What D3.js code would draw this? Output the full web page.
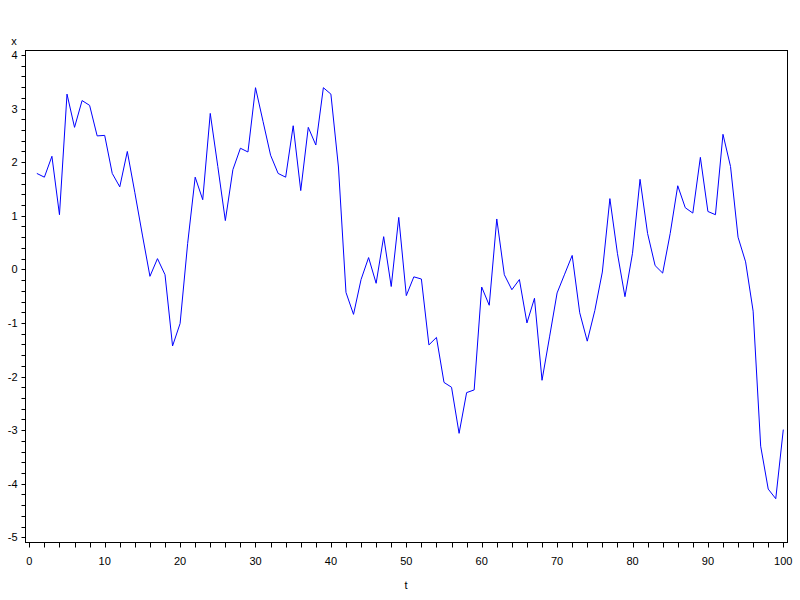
<!DOCTYPE html>
<html><head><meta charset="utf-8">
<script src="https://cdn.jsdelivr.net/npm/d3@7"></script>
<style>body{margin:0;background:#fff}svg{display:block}text{font-family:"Liberation Sans",Arial,sans-serif;font-size:11px;fill:#000}</style>
</head><body>
<svg id="c" width="800" height="600"></svg>
<script>
const tValues = d3.range(1, 101);
const xValues = [
 1.79, 1.72, 2.11, 1.02, 3.27, 2.65, 3.15, 3.06, 2.49, 2.50,
 1.79, 1.54, 2.20, 1.43, 0.64, -0.13, 0.20, -0.10, -1.43, -1.01,
 0.48, 1.72, 1.30, 2.91, 1.92, 0.91, 1.86, 2.26, 2.19, 3.39,
 2.76, 2.13, 1.79, 1.72, 2.68, 1.47, 2.65, 2.32, 3.39, 3.27,
 1.91, -0.43, -0.84, -0.19, 0.22, -0.26, 0.61, -0.32, 0.97, -0.49,
 -0.14, -0.18, -1.41, -1.27, -2.11, -2.20, -3.06, -2.30, -2.25, -0.33,
 -0.67, 0.94, -0.10, -0.38, -0.19, -1.00, -0.54, -2.07, -1.26, -0.44,
 -0.09, 0.26, -0.81, -1.34, -0.77, -0.05, 1.32, 0.30, -0.51, 0.30,
 1.68, 0.67, 0.07, -0.07, 0.67, 1.56, 1.15, 1.05, 2.09, 1.08,
 1.02, 2.52, 1.92, 0.60, 0.14, -0.78, -3.30, -4.10, -4.28, -2.99
];
const xTicks = [0,10,20,30,40,50,60,70,80,90,100];
const yTicks = [-5,-4,-3,-2,-1,0,1,2,3,4];

const svg = d3.select("#c");
const frame = {left:25.5, right:787.5, top:50.5, bottom:542.5};
const x = d3.scaleLinear().domain([0,100]).range([29.3,783.3]);
const y = d3.scaleLinear().domain([-5,4]).range([537.3,55]);

svg.append("rect").attr("x",frame.left).attr("y",frame.top)
  .attr("width",frame.right-frame.left).attr("height",frame.bottom-frame.top)
  .attr("fill","none").attr("stroke","#000").attr("stroke-width",1);

// x axis
const xMinor = d3.range(0,101,2);
const gx = svg.append("g").attr("transform",`translate(0,${frame.bottom})`);
gx.selectAll("line").data(xMinor).join("line")
  .attr("x1",d=>Math.round(x(d))+0.5).attr("x2",d=>Math.round(x(d))+0.5)
  .attr("y1",0).attr("y2",5).attr("stroke","#000");
gx.selectAll("text").data(xTicks).join("text")
  .attr("x",d=>x(d)).attr("y",22).attr("text-anchor","middle").text(d=>d);

// y axis
const yMinor = d3.range(-5,4.001,0.2);
const gy = svg.append("g").attr("transform",`translate(${frame.left},0)`);
gy.selectAll("line").data(yMinor).join("line")
  .attr("y1",d=>Math.round(y(d))+0.5).attr("y2",d=>Math.round(y(d))+0.5)
  .attr("x1",0).attr("x2",-4).attr("stroke","#000");
gy.selectAll("text").data(yTicks).join("text")
  .attr("x",-8).attr("y",d=>y(d)+4).attr("text-anchor","end").text(d=>d);

svg.append("text").attr("x",14).attr("y",45).attr("text-anchor","middle").text("x");
svg.append("text").attr("x",406).attr("y",589).attr("text-anchor","middle").text("t");

const line = d3.line().x((d,i)=>x(tValues[i])).y(d=>y(d));
svg.append("path").datum(xValues).attr("d",line)
  .attr("fill","none").attr("stroke","#0000ff").attr("stroke-width",1);
</script>
</body></html>
